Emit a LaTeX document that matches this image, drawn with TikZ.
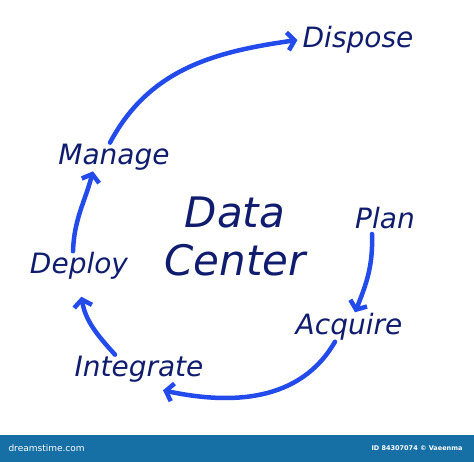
\documentclass[tikz,border=0pt]{standalone}
\usepackage{fontspec}
\setmainfont{DejaVu Sans}
\usepackage{xcolor}
\usepackage{tikz}
\definecolor{navy1} {RGB} {16, 28, 110}
\definecolor{blue1} {RGB} {35, 75, 235}
\definecolor{stock1} {RGB} {22, 112, 165}
\usetikzlibrary{arrows.meta}
\tikzstyle{stage}=[
  font=\fontsize{28}{32}\selectfont\itshape, text=navy1, inner sep=1pt
]
\tikzstyle{cyc}=[
  draw=blue1, line width=4.5pt, line cap=round,
  -{Straight Barb[length=7pt,width=18pt]}
]
\begin{document}
\begin{tikzpicture}[x=1pt,y=1pt]
      \useasboundingbox (0,0) rectangle (474,462);
      \fill[white] (0,0) rectangle (474,462);
      % stages of the cycle
      \node[stage] (dispose) at (358,422) {Dispose};
      \node[stage] (manage) at (114,305) {Manage};
      \node[stage] (deploy) at (79,196) {Deploy};
      \node[stage] (integrate) at (139,93) {Integrate};
      \node[stage] (acquire) at (349,135) {Acquire};
      \node[stage] (plan) at (385,244) {Plan};
      \node[stage, font=\fontsize{42}{48}\selectfont\itshape, align=center] (dc) at (235,226) {Data\\Center};
      % arrows
      \draw[cyc] ([xshift=-4pt]manage.north) to[out=62,in=188] ([xshift=-4pt]dispose.west);
      \draw[cyc] ([xshift=-6pt]deploy.north) to[out=88,in=255] ([xshift=-21pt]manage.south);
      \draw[cyc, shorten >=2pt] ([xshift=-24pt]integrate.north) to[out=132,in=280] ([xshift=2pt,yshift=-14pt]deploy.south);
      \draw[cyc] ([xshift=-14pt]acquire.south) to[out=240,in=-12] ([xshift=24pt,yshift=-7pt]integrate.south);
      \draw[cyc] ([xshift=-13pt,yshift=-4pt]plan.south) to[out=-88,in=68] ([xshift=6pt]acquire.north);
      % stock banner
      \fill[stock1] (0,0) rectangle (474,27);
      \node[text=white, font=\fontsize{9}{11}\selectfont, anchor=west] (site) at (5,14) {dreamstime.com};
      \node[text=white, font=\fontsize{6.5}{8}\selectfont\bfseries, anchor=east] (credit) at (466,14) {ID 84307074 © Vaeenma};
\end{tikzpicture}
\end{document}
